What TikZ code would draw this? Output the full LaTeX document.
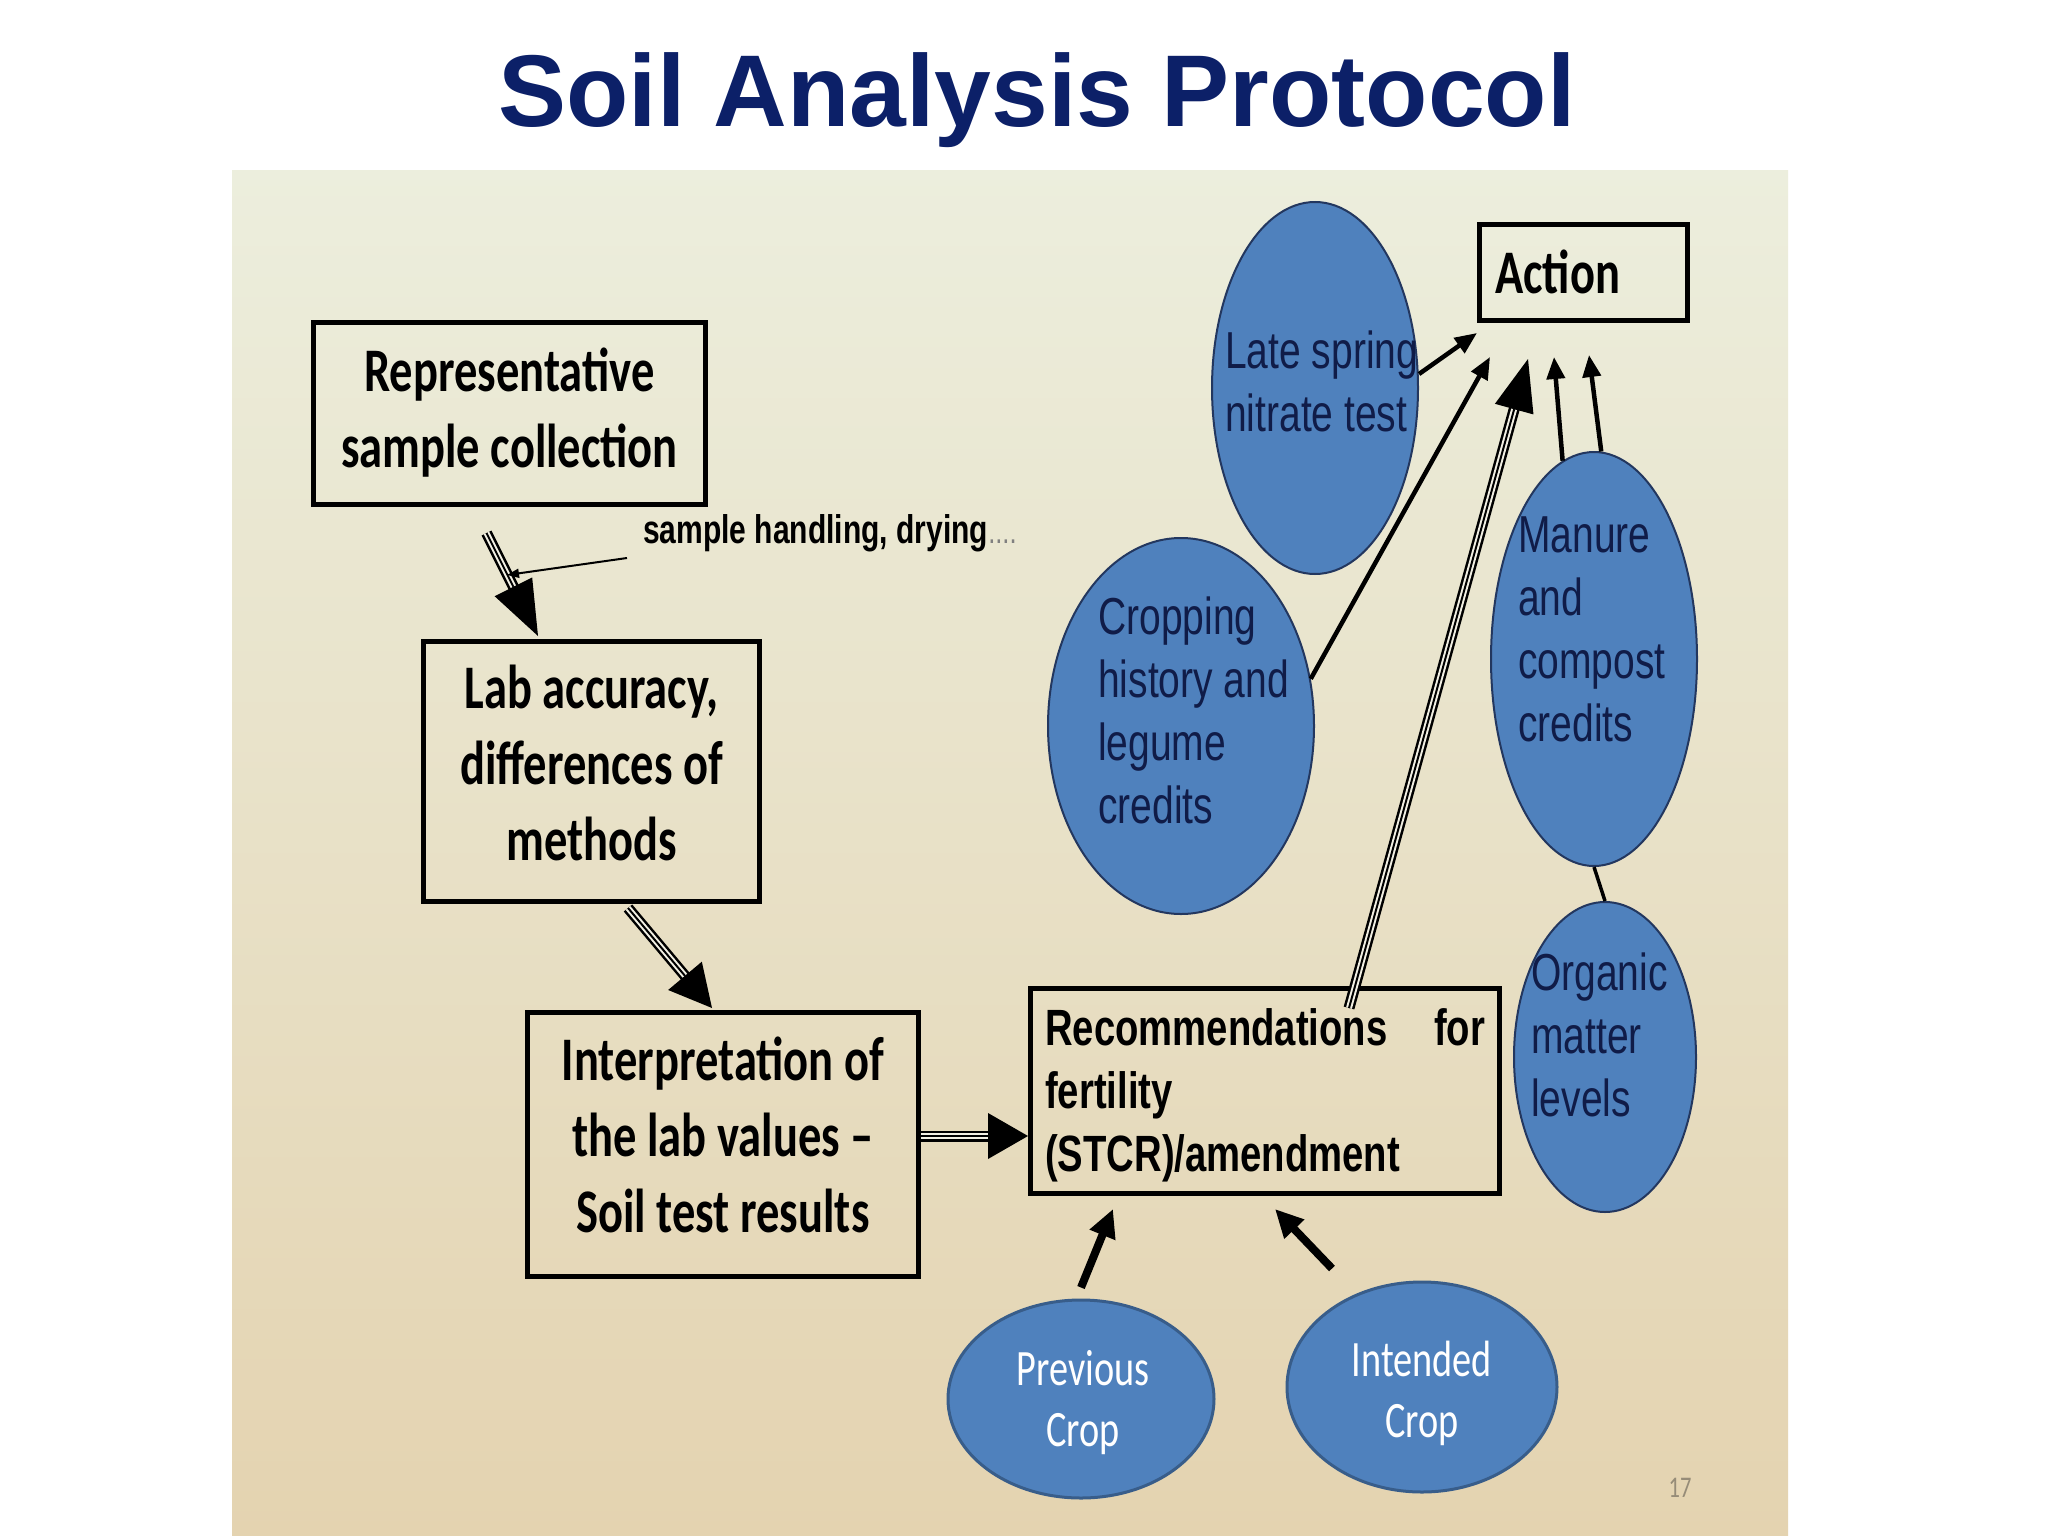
\documentclass[tikz,border=0pt]{standalone}
\usepackage{fontspec}
\usetikzlibrary{shapes.geometric,arrows.meta,calc}
\setmainfont{Liberation Sans}
\newfontfamily\calN[FakeStretch=0.75]{Carlito}
\newfontfamily\arN[FakeStretch=0.75]{Liberation Sans}
\definecolor{titleblue}{RGB}{12,32,104}
\definecolor{bgtop}{RGB}{236,238,221}
\definecolor{bgmid}{RGB}{240,235,219}
\definecolor{bgbot}{RGB}{228,211,176}
\definecolor{ellfill}{RGB}{79,129,189}
\definecolor{elledge}{RGB}{35,55,95}
\definecolor{cropedge}{RGB}{56,93,138}
\definecolor{elltext}{RGB}{16,28,72}
\definecolor{gapcol}{RGB}{242,240,228}
\definecolor{numgray}{RGB}{150,140,120}
\newcommand\triplearrow[4]{%
  \coordinate (ta-s) at #1; \coordinate (ta-e) at #2;
  \coordinate (ta-b) at ($(ta-e)!#3!(ta-s)$);
  \draw[line width=11pt, black] (ta-s) -- ($(ta-b)!-2pt!(ta-s)$);
  \draw[line width=6pt, gapcol] (ta-s) -- (ta-b);
  \draw[line width=2pt, black] (ta-s) -- (ta-b);
  \fill[black] ($(ta-b)!#4!90:(ta-e)$) -- (ta-e) -- ($(ta-b)!#4!-90:(ta-e)$) -- cycle;
}
\tikzset{
  box/.style={draw=black, line width=5pt, rectangle, inner sep=0pt},
  blob/.style={ellipse, fill=ellfill, draw=elledge, line width=2pt, inner sep=0pt},
  cropblob/.style={ellipse, fill=ellfill, draw=cropedge, line width=3pt, inner sep=0pt},
  boxtext/.style={font=\calN\bfseries\fontsize{62}{76}\selectfont, align=center},
  elltxt/.style={font=\arN\fontsize{52}{63}\selectfont, text=elltext, align=left, inner sep=0pt, anchor=west},
  croptxt/.style={font=\calN\fontsize{51}{61}\selectfont, text=white, align=center, inner sep=0pt},
  thinarrow/.style={line width=4.5pt, -{Triangle[length=22pt,width=18pt]}},
  thickarrow/.style={line width=8pt, -{Triangle[length=28pt,width=26pt]}},
}
\begin{document}
\begin{tikzpicture}[x=1pt,y=1pt]
\useasboundingbox (0,0) rectangle (2048,-1536);
\fill[white] (0,0) rectangle (2048,-1536);
\shade[top color=bgtop, middle color=bgmid, bottom color=bgbot] (232,-170) rectangle (1788,-1536);

\node[text=titleblue, font=\bfseries\fontsize{102}{110}\selectfont, anchor=base] (title) at (1037,-127) {Soil Analysis Protocol};

% boxes
\node[box, minimum width=392pt, minimum height=182pt] (rep) at (509.5,-413.5) {};
\node[boxtext, inner sep=0pt] (rept) at (509.5,-413) {Representative\\sample collection};
\node[box, minimum width=336pt, minimum height=260pt] (lab) at (591.5,-771.5) {};
\node[boxtext, inner sep=0pt] (labt) at (591.5,-763) {Lab accuracy,\\differences of\\methods};
\node[box, minimum width=391pt, minimum height=264pt] (interp) at (723,-1144.5) {};
\node[boxtext, inner sep=0pt] (interpt) at (723,-1135) {Interpretation of\\the lab values –\\Soil test results};
\node[box, minimum width=469pt, minimum height=205pt] (rec) at (1265,-1091) {};
\node[font=\arN\bfseries\fontsize{51}{63}\selectfont, align=left, anchor=west, inner sep=0pt] (rectext) at (1045,-1095) {\makebox[440pt][s]{Recommendations for}\\fertility\\(STCR)/amendment};
\node[box, minimum width=208pt, minimum height=96pt] (act) at (1583.5,-272.5) {};
\node[font=\calN\bfseries\fontsize{62}{76}\selectfont, anchor=west, inner sep=0pt] (acttext) at (1495,-272) {Action};

% ellipses
\node[blob, minimum width=206pt, minimum height=372pt] (late) at (1315,-388) {};
\node[blob, minimum width=266pt, minimum height=376pt] (crop) at (1181,-726) {};
\node[blob, minimum width=206pt, minimum height=414pt] (man) at (1594,-659) {};
\node[blob, minimum width=182pt, minimum height=310pt] (org) at (1605,-1057) {};
\node[cropblob, minimum width=266pt, minimum height=198pt] (prev) at (1081,-1399) {};
\node[cropblob, minimum width=270pt, minimum height=210pt] (intd) at (1422,-1387) {};

\node[elltxt] (latet) at (1225,-381) {Late spring\\nitrate test};
\node[elltxt] (cropt) at (1098,-710) {Cropping\\history and\\legume\\credits};
\node[elltxt] (mant) at (1518,-629) {Manure\\and\\compost\\credits};
\node[elltxt] (orgt) at (1531,-1035) {Organic\\matter\\levels};
\node[croptxt] (prevt) at (1083,-1403) {Previous\\Crop};
\node[croptxt] (intdt) at (1422,-1393) {Intended\\Crop};

% side label
\node[font=\arN\bfseries\fontsize{40}{44}\selectfont, anchor=west, inner sep=0pt] (sh) at (643,-533) {sample handling, drying\textcolor{gray}{\mdseries\fontsize{34}{36}\selectfont....}};
\node[text=numgray, font=\calN\fontsize{30}{30}\selectfont, inner sep=0pt] (pg) at (1680,-1488) {17};

% connectors
\triplearrow{([shift={(-23,-26)}]rep.south)}{([shift={(-53.5,3)}]lab.north)}{55pt}{21pt}
\triplearrow{([shift={(36.5,-4)}]lab.south)}{([shift={(-11,2)}]interp.north)}{42pt}{22pt}
\triplearrow{([yshift=8.5]interp.east)}{([yshift=-45]rec.west)}{40pt}{23pt}
\triplearrow{([shift={(84,-22)}]rec.north)}{([shift={(-55.5,-36)}]act.south)}{52pt}{20pt}

\coordinate (shtip) at (507,-575);
\draw[line width=2pt, -{Triangle[length=12pt,width=9pt]}] ([shift={(-16,-25)}]sh.west) -- (shtip);

\draw[thinarrow] ([yshift=14]late.east) -- ([yshift=-10]act.south west);
\draw[thinarrow] (crop.20) -- ([shift={(13,-34)}]act.south west);
\draw[thinarrow] (man.99) -- ([shift={(77,-34)}]act.south west);
\draw[thinarrow] (man.88) -- ([shift={(112,-32)}]act.south west);
\draw[line width=3.5pt] (man.south) -- (org.north);

\draw[thickarrow] ([yshift=11]prev.north) -- ([shift={(85,-13)}]rec.south west);
\draw[thickarrow] ([shift={(-90,12)}]intd.north) -- ([shift={(247,-13)}]rec.south west);
\end{tikzpicture}
\end{document}
